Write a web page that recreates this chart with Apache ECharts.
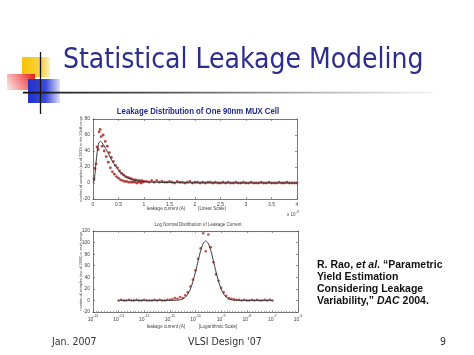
<!DOCTYPE html>
<html>
<head>
<meta charset="utf-8">
<script src="https://cdn.jsdelivr.net/npm/echarts@6/dist/echarts.min.js"></script>
<style>
html,body{margin:0;padding:0;background:#fff;}
#c{width:474px;height:355px;}
</style>
</head>
<body>
<div id="c"></div>
<script>
// ---------- DATA ----------
const slideTitle = 'Statistical Leakage Modeling';
const topTitle = 'Leakage Distribution of One 90nm MUX Cell';
const bottomTitle = 'Log Normal Distribution of Leakage Current';

// top chart: linear leakage current (x10^-9 A) vs count
const topFitX = [0,0.02,0.04,0.06,0.08,0.10,0.12,0.15,0.18,0.21,0.25,0.29,0.33,0.38,0.43,0.48,0.54,0.60,0.68,0.76,0.85,1.0,1.2,1.5,2.0,2.5,3.0,4.0];
const topFitY = [0,2,12,26,38,46,51,52,50,47,43,38,33,27,22,18,13,10,6.5,4.5,3,1.8,1,0.5,0.2,0.1,0,0];

const topSampleX = [0.02,0.04,0.06,0.08,0.10,0.12,0.14,0.16,0.18,0.20,0.22,0.24,0.26,0.28,0.30,0.32,0.34,0.36,0.38,0.40,
  0.42,0.44,0.46,0.48,0.50,0.52,0.54,0.56,0.58,0.60,0.62,0.64,0.66,0.68,0.70,0.72,0.74,0.76,0.78,0.80,
  0.82,0.84,0.86,0.88,0.90,0.92,0.94,0.96,0.98,1.00,
  1.05,1.10,1.15,1.20,1.25,1.30,1.35,1.40,1.45,1.50,1.55,1.60,1.65,1.70,1.75,1.80,1.85,1.90,1.95,2.00,
  2.05,2.10,2.15,2.20,2.25,2.30,2.35,2.40,2.45,2.50,2.55,2.60,2.65,2.70,2.75,2.80,2.85,2.90,2.95,3.00,
  3.05,3.10,3.15,3.20,3.25,3.30,3.35,3.40,3.45,3.50,3.55,3.60,3.65,3.70,3.75,3.80,3.85,3.90,3.95,4.00];
const topSampleY = [5,18,24,45,42,64,67,58,46,60,40,52,33,46,26,38,19,32,14,27,
  11,22,8,19,6,15,4,12,3,10,2,8,2,7,1,6,1,5,1,4,
  1,4,0,3,1,3,0,3,1,2,
  2,1,3,1,3,1,2,1,1,2,1,0,2,1,1,0,1,2,0,1,
  1,0,1,0,1,1,0,1,0,0,1,0,1,0,0,1,0,0,1,0,
  0,1,0,0,0,1,0,0,1,0,0,0,1,0,0,1,0,0,0,0];

// bottom chart: log10(leakage current) vs count
const bottomExp = [-13.0,-12.9,-12.8,-12.7,-12.6,-12.5,-12.4,-12.3,-12.2,-12.1,-12.0,-11.9,-11.8,-11.7,-11.6,-11.5,-11.4,-11.3,-11.2,-11.1,
  -11.0,-10.9,-10.8,-10.7,-10.6,-10.5,-10.4,-10.3,-10.2,-10.1,-10.0,-9.9,-9.8,-9.7,-9.6,-9.5,-9.4,-9.3,-9.2,-9.1,
  -9.0,-8.9,-8.8,-8.7,-8.6,-8.5,-8.4,-8.3,-8.2,-8.1,-8.0,-7.9,-7.8,-7.7,-7.6,-7.5,-7.4,-7.3,-7.2,-7.1,-7.0];
const bottomFit = [0,0,0,0,0,0,0,0,0,0,0,0,0,0,0,0,0,0,0,0,
  0,0,0.1,0.4,1.1,2.5,5.5,10.9,19.8,32.7,49.4,68.2,85.8,98.4,103,98.4,85.8,68.2,49.4,32.7,
  19.8,10.9,5.5,2.5,1.1,0.4,0.1,0,0,0,0,0,0,0,0,0,0,0,0,0,0];
const bottomSamples = [0,1,0,0,1,0,0,1,0,0,1,0,0,0,1,0,1,0,0,1,
  1,2,4,3,6,4,9,14,24,36,52,72,90,116,85,114,92,66,45,34,
  22,14,8,4,3,2,1,1,0,1,0,0,1,0,1,0,0,1,0,1,0];

const topXTicks = {min:0, max:4, interval:0.5};
const topYTicks = {min:-20, max:80, interval:20};
const bottomXTicks = {min:-14, max:-6, interval:1};
const bottomYTicks = {min:-20, max:120, interval:20};

// ---------- CHART ----------
const chart = echarts.init(document.getElementById('c'), null, {renderer:'canvas'});

const pair = (xs, ys) => xs.map((x, i) => [x, ys[i]]);
const axisCol = '#555';
const lblCol = '#444';
const tinyFont = 'Liberation Sans, Arial, sans-serif';

function xAx(grid, t, pos, showLabel, extra) {
  return Object.assign({
    gridIndex: grid, type: 'value', position: pos, min: t.min, max: t.max, interval: t.interval,
    axisLine: {show: true, onZero: false, lineStyle: {color: axisCol, width: 0.8}},
    axisTick: {show: true, inside: true, length: 2, lineStyle: {color: axisCol, width: 0.6}},
    axisLabel: {show: showLabel, fontSize: 5, color: lblCol, margin: 3, fontFamily: tinyFont},
    splitLine: {show: false}
  }, extra || {});
}
function yAx(grid, t, pos, showLabel) {
  return {
    gridIndex: grid, type: 'value', position: pos, min: t.min, max: t.max, interval: t.interval,
    axisLine: {show: true, onZero: false, lineStyle: {color: axisCol, width: 0.8}},
    axisTick: {show: true, inside: true, length: 2, lineStyle: {color: axisCol, width: 0.6}},
    axisLabel: {show: showLabel, fontSize: 5, color: lblCol, margin: 3, fontFamily: tinyFont},
    splitLine: {show: false}
  };
}

const logLabel = {
  formatter: v => '{b|10}{s|' + v + '}',
  rich: {
    b: {fontSize: 5, color: lblCol, fontFamily: tinyFont, lineHeight: 8, verticalAlign: 'bottom'},
    s: {fontSize: 3.5, color: lblCol, fontFamily: tinyFont, lineHeight: 8, verticalAlign: 'top'}
  }
};

function txt(x, y, text, size, opts) {
  const o = opts || {};
  return {
    type: 'text', x: x, y: y, rotation: o.rotation || 0, scaleX: o.scaleX || 1, z: 100,
    style: Object.assign({
      text: text, fontSize: size, fontFamily: o.family || tinyFont,
      fontWeight: o.weight || 'normal', fontStyle: o.style || 'normal',
      fill: o.color || '#333',
      textAlign: o.align || 'left', align: o.align || 'left',
      textVerticalAlign: o.valign || 'middle', verticalAlign: o.valign || 'middle'
    }, o.extra || {})
  };
}

const option = {
  backgroundColor: '#fff',
  animation: false,
  grid: [
    {left: 93, top: 119, width: 204, height: 80},
    {left: 93, top: 231, width: 205, height: 81}
  ],
  xAxis: [
    xAx(0, topXTicks, 'bottom', true),
    xAx(0, topXTicks, 'top', false),
    xAx(1, bottomXTicks, 'bottom', true, {axisLabel: Object.assign({show: true, margin: 2}, logLabel),
      minorTick: {show: true, splitNumber: 9, length: 1.2, lineStyle: {color: axisCol, width: 0.5}}}),
    xAx(1, bottomXTicks, 'top', false, {minorTick: {show: true, splitNumber: 9, length: 1.2, lineStyle: {color: axisCol, width: 0.5}}})
  ],
  yAxis: [
    yAx(0, topYTicks, 'left', true),
    yAx(0, topYTicks, 'right', false),
    yAx(1, bottomYTicks, 'left', true),
    yAx(1, bottomYTicks, 'right', false)
  ],
  series: [
    {type: 'scatter', xAxisIndex: 0, yAxisIndex: 0, data: pair(topSampleX, topSampleY),
     symbol: 'circle', symbolSize: 2.8, itemStyle: {color: '#a8322e', opacity: 0.9}, silent: true},
    {type: 'line', xAxisIndex: 0, yAxisIndex: 0, data: pair(topFitX, topFitY), smooth: 0.3,
     showSymbol: false, lineStyle: {color: '#3a3a3a', width: 1}, silent: true},
    {type: 'scatter', xAxisIndex: 2, yAxisIndex: 2, data: pair(bottomExp, bottomSamples),
     symbol: 'circle', symbolSize: 2.6, itemStyle: {color: '#b8403a', opacity: 0.9}, silent: true},
    {type: 'line', xAxisIndex: 2, yAxisIndex: 2, data: pair(bottomExp, bottomFit), smooth: 0.2,
     showSymbol: false, lineStyle: {color: '#3a3a3a', width: 1}, silent: true}
  ],
  graphic: [
    // decorative squares
    {type: 'rect', shape: {x: 22, y: 57, width: 28, height: 20}, z: 1,
     style: {fill: new echarts.graphic.LinearGradient(0, 0, 1, 0, [{offset: 0, color: '#f6c400'}, {offset: 0.7, color: '#f9d24a'}, {offset: 1, color: '#fdf0c0'}])}},
    {type: 'rect', shape: {x: 7, y: 74, width: 28, height: 16}, z: 2,
     style: {fill: new echarts.graphic.LinearGradient(0, 1, 1, 0, [{offset: 0, color: '#fdeaea'}, {offset: 0.6, color: '#f27070'}, {offset: 1, color: '#e01818'}])}},
    {type: 'rect', shape: {x: 28, y: 79, width: 32, height: 24}, z: 3,
     style: {fill: new echarts.graphic.LinearGradient(0, 0, 1, 0, [{offset: 0, color: '#2030c8'}, {offset: 0.55, color: '#3a4ad8'}, {offset: 1, color: '#dfe2fa'}])}},
    {type: 'line', shape: {x1: 40.5, y1: 52, x2: 40.5, y2: 114}, z: 4, style: {stroke: '#111', lineWidth: 1.3}},
    {type: 'rect', shape: {x: 23, y: 91.8, width: 410, height: 1.8}, z: 4,
     style: {fill: new echarts.graphic.LinearGradient(0, 0, 1, 0, [{offset: 0, color: '#111'}, {offset: 0.35, color: '#555'}, {offset: 0.75, color: '#bbb'}, {offset: 1, color: '#f4f4f4'}])}},
    // slide title
    txt(63, 61, slideTitle, 28, {family: "'DejaVu Sans Condensed', 'DejaVu Sans', sans-serif", color: '#2d2d8c'}),
    // chart titles
    txt(198, 111, topTitle, 9.5, {family: "'Liberation Sans', Arial, sans-serif", weight: 'bold', color: '#1f2a8c', align: 'center', scaleX: 0.82}),
    txt(198, 225, bottomTitle, 4.5, {align: 'center', color: '#444'}),
    // axis names
    txt(166, 209, 'leakage current (A)', 4.5, {align: 'center', color: '#444'}),
    txt(212, 209, '[Linear Scale]', 4.5, {align: 'center', color: '#444'}),
    txt(287, 215, 'x 10', 4.5, {align: 'left', color: '#444'}),
    txt(296, 212, '-9', 3.5, {align: 'left', color: '#444'}),
    txt(166, 327, 'leakage current (A)', 4.5, {align: 'center', color: '#444'}),
    txt(218, 327, '[Logarithmic Scale]', 4.5, {align: 'center', color: '#444'}),
    txt(81, 159, 'number of samples (out of 2000) in the 10pA range', 3.8, {align: 'center', rotation: Math.PI / 2, color: '#444'}),
    txt(81, 271, 'number of samples (out of 2000) in each range', 3.8, {align: 'center', rotation: Math.PI / 2, color: '#444'}),
    // citation
    {type: 'text', x: 317, y: 259, z: 100, style: {
      text: '{b|R. Rao, }{i|et al}{b|. \u201CParametric}\n{b|Yield Estimation}\n{b|Considering Leakage}\n{b|Variability,\u201D }{i|DAC}{b| 2004.}',
      textAlign: 'left', align: 'left', textVerticalAlign: 'top', verticalAlign: 'top',
      rich: {
        b: {fontSize: 10.5, fontWeight: 'bold', fontFamily: 'Liberation Sans, Arial, sans-serif', fill: '#111', color: '#111', lineHeight: 12},
        i: {fontSize: 10.5, fontWeight: 'bold', fontStyle: 'italic', fontFamily: 'Liberation Sans, Arial, sans-serif', fill: '#111', color: '#111', lineHeight: 12}
      }
    }},
    // footer
    txt(52, 342, 'Jan. 2007', 10.5, {family: "'DejaVu Sans Condensed', sans-serif", color: '#333'}),
    txt(188, 342, "VLSI Design '07", 10.5, {family: "'DejaVu Sans Condensed', sans-serif", color: '#333'}),
    txt(440, 342, '9', 10.5, {family: "'DejaVu Sans Condensed', sans-serif", color: '#333'})
  ]
};
chart.setOption(option);
</script>
</body>
</html>
